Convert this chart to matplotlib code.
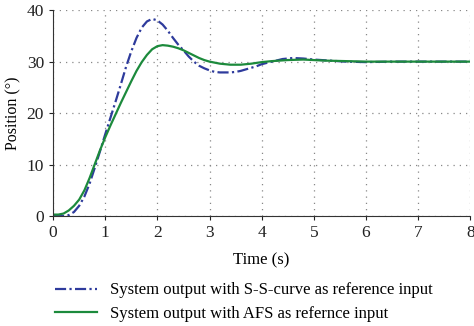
import matplotlib
matplotlib.use("Agg")
import matplotlib.pyplot as plt

# S-S-curve response
t_ss = [0, 0.2, 0.3, 0.4, 0.5, 0.6, 0.7, 0.8, 0.9, 1.0, 1.1, 1.2, 1.3, 1.4,
        1.5, 1.6, 1.7, 1.8, 1.9, 2.0, 2.1, 2.2, 2.3, 2.4, 2.5, 2.6, 2.7, 2.8,
        2.9, 3.0, 3.1, 3.2, 3.3, 3.4, 3.5, 3.6, 3.7, 3.8, 3.9, 4.0, 4.2, 4.4,
        4.6, 4.8, 5.0, 5.3, 5.6, 6.0, 6.5, 7.0, 8.0]
y_ss = [0, 0, 0.2, 0.8, 2.0, 3.8, 6.3, 9.4, 12.6, 15.9, 19.1, 22.3, 25.6, 29.0,
        32.0, 34.6, 36.6, 37.8, 38.3, 38.0, 37.2, 36.0, 34.6, 33.3, 32.2, 31.0,
        30.0, 29.2, 28.7, 28.3, 28.0, 27.9, 27.9, 27.9, 28.0, 28.2, 28.5, 28.8,
        29.1, 29.5, 30.0, 30.5, 30.7, 30.6, 30.4, 30.2, 30.0, 29.9, 30.0, 30.0,
        30.0]

# AFS response
t_afs = [0, 0.1, 0.2, 0.3, 0.4, 0.5, 0.6, 0.7, 0.8, 0.9, 1.0, 1.1, 1.2, 1.3,
         1.4, 1.5, 1.6, 1.7, 1.8, 1.9, 2.0, 2.1, 2.2, 2.3, 2.4, 2.5, 2.6, 2.7,
         2.8, 2.9, 3.0, 3.2, 3.4, 3.6, 3.8, 4.0, 4.2, 4.5, 4.8, 5.2, 5.6, 6.0,
         7.0, 8.0]
y_afs = [0.3, 0.3, 0.5, 1.1, 2.0, 3.2, 5.0, 7.4, 10.1, 12.8, 15.3, 17.6, 19.8,
         22.0, 24.1, 26.2, 28.2, 29.9, 31.3, 32.4, 33.0, 33.2, 33.1, 32.9,
         32.6, 32.2, 31.7, 31.2, 30.7, 30.3, 30.0, 29.6, 29.4, 29.4, 29.6, 29.9,
         30.1, 30.3, 30.4, 30.2, 30.1, 30.0, 30.0, 30.0]

labels = ["System output with S-S-curve as reference input",
          "System output with AFS as refernce input"]

plt.rcParams['font.family'] = ['Liberation Serif', 'DejaVu Serif']

fig = plt.figure(figsize=(4.74, 3.26), dpi=100)
ax = fig.add_axes([0.112, 0.337, 0.880, 0.632])

ax.plot(t_ss, y_ss, color='#2e3b9c', lw=1.6, linestyle=(0, (5, 1.5, 1, 1.5)), label=labels[0])
ax.plot(t_afs, y_afs, color='#1c8a3c', lw=1.6, label=labels[1])

ax.set_xlim(0, 8)
ax.set_ylim(0, 40)
ax.set_xticks(range(0, 9))
ax.set_yticks([0, 10, 20, 30, 40])
ax.grid(True, color='#888888', linestyle=(0, (1, 4)), lw=0.9)
for s in ['top', 'right']:
    ax.spines[s].set_visible(False)
for s in ['left', 'bottom']:
    ax.spines[s].set_color('#333333')
ax.tick_params(direction='out', length=3, labelsize=12.5, colors='#222222')
ax.set_xlabel('Time (s)', fontsize=12, labelpad=8)
ax.set_ylabel('Position (°)', fontsize=11.5)

fig.legend(loc='lower left', bbox_to_anchor=(55 / 474, 4 / 326), frameon=False,
           fontsize=12, handlelength=2.5, handletextpad=0.8, labelspacing=0.45,
           borderpad=0, borderaxespad=0)

fig.savefig('out.png', dpi=100)
